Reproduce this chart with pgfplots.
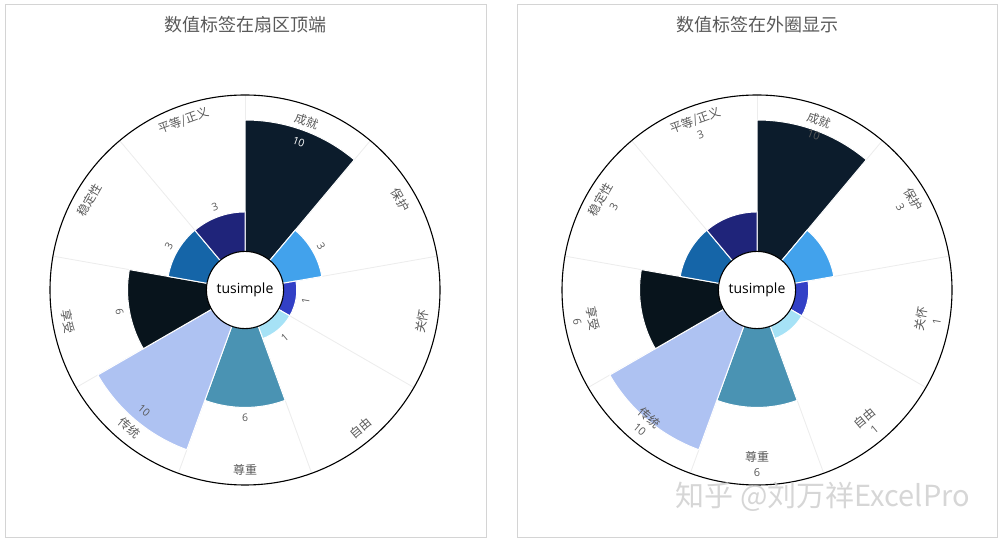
\documentclass[border=0pt]{standalone}
\usepackage{fontspec}
\setmainfont{Open Sans}
\newfontfamily\cjk{Noto Sans CJK SC}
\usepackage{pgfplots}
\usepackage{pgfplotstable}
\pgfplotsset{compat=1.18}

\definecolor{c1}{HTML}{0C1C2C}
\definecolor{c2}{HTML}{42A2EC}
\definecolor{c3}{HTML}{3240C6}
\definecolor{c4}{HTML}{A6E2F6}
\definecolor{c5}{HTML}{4A93B3}
\definecolor{c6}{HTML}{AEC2F2}
\definecolor{c7}{HTML}{08141C}
\definecolor{c8}{HTML}{1565A8}
\definecolor{c9}{HTML}{1F247A}
\definecolor{txt}{HTML}{595959}
\definecolor{ttl}{HTML}{595959}
\definecolor{gridc}{HTML}{EDEDED}
\definecolor{framec}{HTML}{D4D4D4}

\pgfdeclareplotmark{blank}{}

% sectors: start angle a (math degrees), each 40 deg wide, clockwise
% ci = colour index, wl = 1 for a white value label
\pgfplotstableread{
x y name val a rot ci wl
0 0 成就 10 90 -20 1 1
0 0 保护 3 50 -60 2 0
0 0 关怀 1 10 80 3 0
0 0 自由 1 -30 40 4 0
0 0 尊重 6 -70 0 5 0
0 0 传统 10 -110 -40 6 0
0 0 享受 6 -150 -80 7 0
0 0 稳定性 3 -190 60 8 0
0 0 平等/正义 3 -230 20 9 0
}\rosedata

\newcommand\rin{38.6}
\newcommand\rk{13.14}
\newcommand\rout{195}

\pgfplotsset{
  panel/.style={
    x=1pt, y=1pt,
    xmin=-240, xmax=241, ymin=-247, ymax=286,
    enlargelimits=false,
    ticks=none,
    axis line style={draw=framec, line width=0.9pt},
    clip=false,
    clip mode=individual,
  },
  rosepass/.style={
    scatter, only marks, mark=blank,
    point meta=explicit symbolic,
    visualization depends on={\thisrow{val}\as\sVal},
    visualization depends on={\thisrow{a}\as\sAng},
    visualization depends on={\thisrow{rot}\as\sRot},
    visualization depends on={\thisrow{ci}\as\sCi},
    visualization depends on={\thisrow{wl}\as\sWl},
    scatter/@post marker code/.code={},
  },
  gridpass/.style={
    rosepass,
    scatter/@pre marker code/.code={%
      \draw[gridc, line width=0.9pt] (\sAng:\rin pt) -- (\sAng:\rout pt);
    },
  },
  sectorpass/.style={
    rosepass,
    scatter/@pre marker code/.code={%
      \pgfmathsetmacro\ro{\rin+\rk*\sVal}%
      \pgfmathsetmacro\ab{\sAng-40}%
      \pgfmathtruncatemacro\ci{\sCi}%
      \fill[fill=c\ci, draw=white, line width=1pt]
        (\sAng:\rin pt) -- (\sAng:\ro pt)
        arc[start angle=\sAng, end angle=\ab, radius=\ro pt]
        -- (\ab:\rin pt) -- cycle;
    },
  },
  toplabels/.style={
    rosepass,
    scatter/@pre marker code/.code={%
      \pgfmathsetmacro\am{\sAng-20}%
      \pgfmathsetmacro\rl{min(\rin+\rk*\sVal+10,157)}%
      \pgfmathtruncatemacro\vt{\sVal}%
      \pgfmathtruncatemacro\wl{\sWl}%
      \ifnum\wl=1 \def\lc{white}\else\def\lc{txt}\fi
      \node[font=\cjk\fontsize{12}{14}\selectfont, text=txt, rotate=\sRot] at (\am:180pt) {\pgfplotspointmeta};
      \node[font=\fontsize{10.5}{12}\selectfont, text=\lc, rotate=\sRot] at (\am:\rl pt) {\vt};
    },
  },
  outerlabels/.style={
    rosepass,
    scatter/@pre marker code/.code={%
      \pgfmathsetmacro\am{\sAng-20}%
      \pgfmathtruncatemacro\vt{\sVal}%
      \node[align=center, font=\fontsize{11}{15}\selectfont, text=txt, rotate=\sRot] at (\am:174pt) {{\cjk\fontsize{12}{15}\selectfont\pgfplotspointmeta}\\\vt};
    },
  },
}

\begin{document}
\begin{tikzpicture}
\useasboundingbox (-5pt,-4pt) rectangle (996pt,537pt);

\begin{axis}[panel]
  \addplot[gridpass] table[meta=name] {\rosedata};
  \addplot[sectorpass] table[meta=name] {\rosedata};
  \draw[black, line width=1.1pt] (axis cs:0,0) circle[radius=\rout pt];
  \draw[black, line width=1.1pt, fill=white] (axis cs:0,0) circle[radius=\rin pt];
  \node[font=\fontsize{14}{16}\selectfont, text=black] at (axis cs:0,0) {tusimple};
  \addplot[toplabels] table[meta=name] {\rosedata};
  \node[font=\cjk\fontsize{18}{20}\selectfont, text=ttl] at (axis cs:0,265) {数值标签在扇区顶端};
\end{axis}

\begin{axis}[panel, at={(512pt,0pt)}, xmax=240]
  \addplot[gridpass] table[meta=name] {\rosedata};
  \addplot[sectorpass] table[meta=name] {\rosedata};
  \draw[black, line width=1.1pt] (axis cs:0,0) circle[radius=\rout pt];
  \draw[black, line width=1.1pt, fill=white] (axis cs:0,0) circle[radius=\rin pt];
  \node[font=\fontsize{14}{16}\selectfont, text=black] at (axis cs:0,0) {tusimple};
  \addplot[outerlabels] table[meta=name] {\rosedata};
  \node[font=\cjk\fontsize{18}{20}\selectfont, text=ttl] at (axis cs:0,265) {数值标签在外圈显示};
  \node[font=\cjk\fontsize{29}{32}\selectfont, text=gray!40, opacity=0.8] at (axis cs:66,-207) {知乎 @刘万祥ExcelPro};
\end{axis}
\end{tikzpicture}
\end{document}
